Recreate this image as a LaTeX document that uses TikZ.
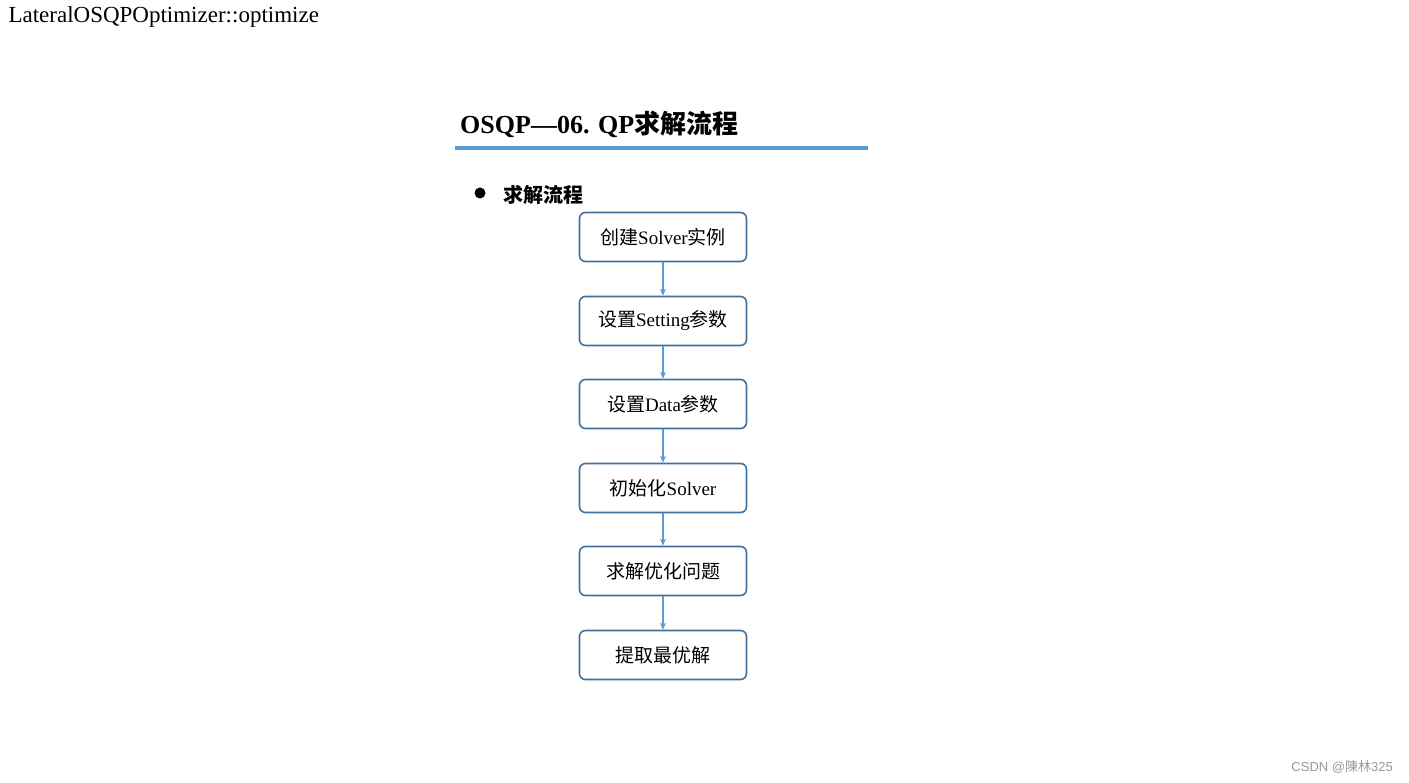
\documentclass[tikz,border=0pt]{standalone}
\usepackage{fontspec}
\setmainfont{Liberation Serif}
\newfontfamily\cjk{Noto Sans CJK SC}
\newfontfamily\cjkb{Noto Sans CJK SC}[BoldFont={* Bold}]
\newfontfamily\dejavu{DejaVu Sans}
\newfontfamily\lsans{Liberation Sans}
\usetikzlibrary{arrows.meta}
\definecolor{boxc}{HTML}{41719C}
\definecolor{arrc}{HTML}{5B9BD5}
\newcommand{\C}[1]{{\cjk #1}}
\begin{document}
\begin{tikzpicture}[x=1pt,y=-1pt,
  stepbox/.style={draw=boxc,line width=1.6pt,rounded corners=6pt,minimum width=167pt,minimum height=49pt,font=\fontsize{19}{22}\selectfont,inner sep=0pt},
  conn/.style={draw=arrc,line width=1.3pt,-{Stealth[length=7pt,width=6pt]}}]
\useasboundingbox[fill=white] (0,0) rectangle (1409,783);
\node[anchor=west,font=\fontsize{23}{26}\selectfont] (hdr) at (5,17) {LateralOSQPOptimizer::optimize};
\node[anchor=west,font=\fontsize{26}{30}\selectfont\bfseries,inner sep=0pt] (title) at (460,124) {OSQP—06. QP{\cjk\bfseries 求解流程}};
\coordinate (l1) at (455,148); \coordinate (l2) at (868,148);
\draw[arrc,line width=4pt] (l1) -- (l2);
\node[circle,fill=black,inner sep=0pt,minimum size=11pt] (bul) at (480,193) {};
\node[anchor=west,font=\fontsize{20}{24}\selectfont\cjk\bfseries,inner sep=0pt] (sub) at (503,195) {求解流程};
\node[stepbox] (b1) at (663,237) {\C{创建}Solver\C{实例}};
\node[stepbox] (b2) at (663,321) {\C{设置}Setting\C{参数}};
\node[stepbox] (b3) at (663,404) {\C{设置}Data\C{参数}};
\node[stepbox] (b4) at (663,488) {\C{初始化}Solver};
\node[stepbox] (b5) at (663,571) {\C{求解优化问题}};
\node[stepbox] (b6) at (663,655) {\C{提取最优解}};
\foreach \a/\b in {b1/b2,b2/b3,b3/b4,b4/b5,b5/b6} \draw[conn] (\a) -- (\b);
\node[anchor=east,text=gray!80,font=\fontsize{13}{15}\selectfont\lsans,inner sep=0pt] (wm) at (1393,767) {CSDN @{\cjk 陳林}325};
\end{tikzpicture}
\end{document}
